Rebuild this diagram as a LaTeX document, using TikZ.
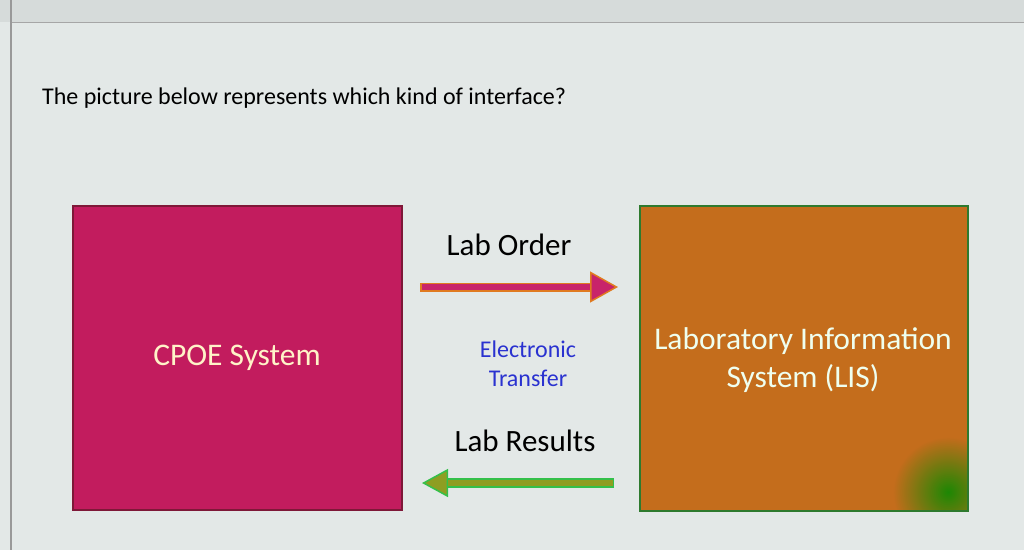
\documentclass[tikz,border=0pt]{standalone}
\usepackage{fontspec}
\setmainfont{Carlito}
\usepackage{tikz}
\usetikzlibrary{arrows.meta, positioning}
\usepackage{xcolor}

\definecolor{screenbg}{HTML}{E3E8E7}
\definecolor{bandbg}{HTML}{D6DBDA}
\definecolor{cpoefill}{HTML}{C21C5E}
\definecolor{cpoeedge}{HTML}{7E1838}
\definecolor{lisfill}{HTML}{C46D1C}
\definecolor{lisedge}{HTML}{2E7A2E}
\definecolor{ordershaft}{HTML}{C8246A}
\definecolor{orderedge}{HTML}{E07A20}
\definecolor{resshaft}{HTML}{8E9E22}
\definecolor{resedge}{HTML}{34C04A}
\definecolor{transferblue}{HTML}{2A32D0}
\definecolor{cpoetext}{HTML}{FFF3C8}
\definecolor{listext}{HTML}{EFFFEF}

\tikzset{
  sysbox/.style={inner sep=0pt, line width=1.5pt},
  label/.style={inner sep=0pt, font=\fontsize{31}{36}\selectfont},
  boxtext/.style={inner sep=0pt, align=center, font=\fontsize{31.5}{38}\selectfont}
}

\begin{document}
\begin{tikzpicture}[x=1pt,y=-1pt]
		\useasboundingbox (0,0) rectangle (1024,550);
		% screen
		\fill[screenbg] (0,0) rectangle (1024,550);
		\fill[bandbg] (0,0) rectangle (1024,22);
		\draw[gray!70, line width=1pt] (12,22) -- (1024,22);
		\draw[gray!80, line width=1.5pt] (11,0) -- (11,550);
		
		\node[anchor=base west, inner sep=0pt, font=\fontsize{24}{28}\selectfont] (question) at (42,104) {The picture below represents which kind of interface?};
		
		% the two systems
		\fill[cpoefill] (73,206) rectangle (402,510);
		\fill[lisfill] (640,206) rectangle (968,511);
		\begin{scope}
			\clip (640,206) rectangle (968,511);
			\shade[inner color=green!55!black, outer color=lisfill, opacity=0.85] (948,492) circle (55);
		\end{scope}
		\draw[sysbox, draw=cpoeedge] (73,206) rectangle (402,510);
		\draw[sysbox, draw=lisedge] (640,206) rectangle (968,511);
		\node[boxtext, text=cpoetext] (cpoe) at (237,358) {CPOE System};
		\node[boxtext, text=listext] (lis) at (803,360) {Laboratory Information\\System (LIS)};
		
		% labels between
		\node[label] (order) at (509,245) {Lab Order};
		\node[inner sep=0pt, align=center, text=transferblue, font=\fontsize{24}{29}\selectfont] (transfer) at (528,364) {Electronic\\Transfer};
		\node[label] (results) at (525,441) {Lab Results};
		
		% arrows
		\coordinate (orderstart) at (420,287);
		\coordinate (orderend) at (618,287);
		\coordinate (resstart) at (614,483);
		\coordinate (resend) at (422,483);
		\draw[orderedge, line width=9pt, -{Triangle[length=28pt,width=31pt,fill=ordershaft,line width=1.5pt]}] (orderstart) -- (orderend);
		\draw[ordershaft, line width=6pt, shorten >=28pt, shorten <=1.5pt] (orderstart) -- (orderend);
		\draw[resedge, line width=10pt, -{Triangle[length=26pt,width=28pt,fill=resshaft,line width=1.5pt]}] (resstart) -- (resend);
		\draw[resshaft, line width=6pt, shorten >=26pt, shorten <=1.5pt] (resstart) -- (resend);
	\end{tikzpicture}
\end{document}
